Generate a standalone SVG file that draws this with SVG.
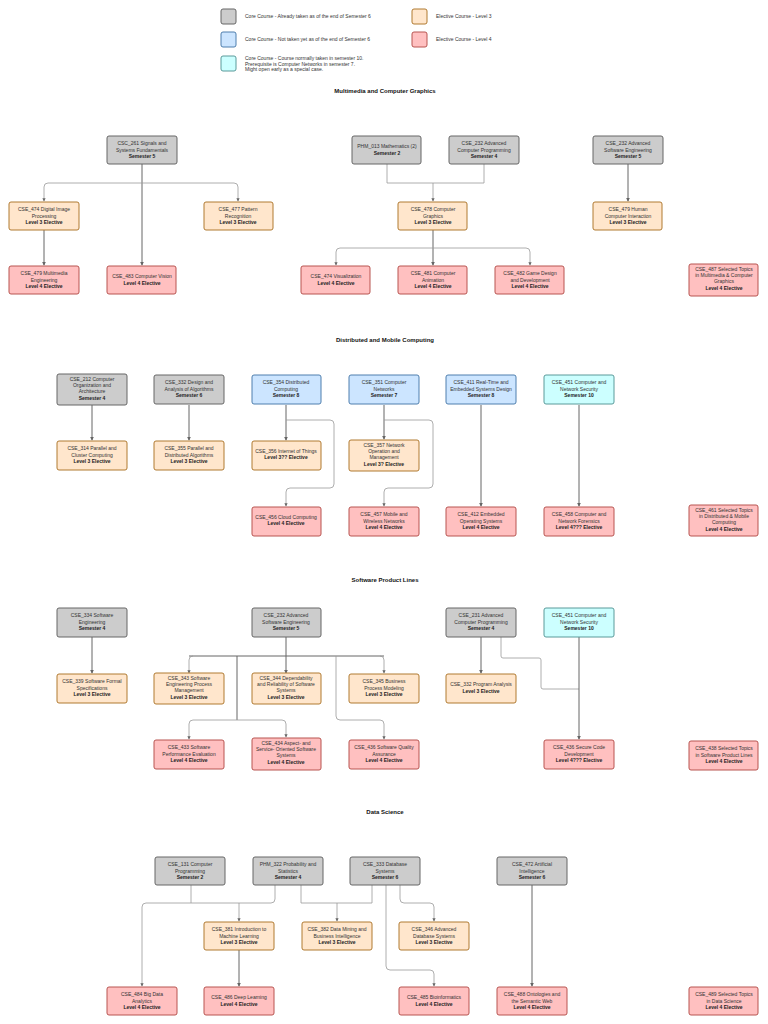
<svg xmlns="http://www.w3.org/2000/svg" width="768" height="1024" viewBox="0 0 768 1024">
<style>
text{font-family:"Liberation Sans",Arial,sans-serif;font-size:5px;fill:#333;text-anchor:middle}
.b{font-weight:bold;fill:#222}
.l{text-anchor:start}
.t{font-size:6px;font-weight:bold;fill:#111}
.g{fill:#cccccc;stroke:#666}
.o{fill:#ffe6cc;stroke:#b07a30}
.u{fill:#cce5ff;stroke:#4f7fae}
.c{fill:#ccffff;stroke:#5a9a9a}
.r{fill:#ffc0c0;stroke:#b85450}
rect{stroke-width:1}
.e path{fill:none;stroke:#666;stroke-width:1}
.e .th{stroke:#999;stroke-width:0.8}
</style>
<defs><marker id="a" viewBox="0 0 6 6" refX="5" refY="3" markerWidth="4" markerHeight="4" orient="auto"><path d="M0,0L6,3L0,6z" fill="#666"/></marker></defs>
<rect width="768" height="1024" fill="#fff"/>
<g id="legend">
<rect class="g" x="221" y="9" width="15" height="15" rx="2"/><text class="l" x="245" y="18">Core Course - Already taken as of the end of Semester 6</text>
<rect class="u" x="221" y="32" width="15" height="15" rx="2"/><text class="l" x="245" y="41">Core Course - Not taken yet as of the end of Semester 6</text>
<rect class="c" x="221" y="56" width="15" height="15" rx="2"/><text class="l" x="245" y="60">Core Course - Course normally taken in semester 10.</text><text class="l" x="245" y="65.5">Prerequisite is Computer Networks in semester 7.</text><text class="l" x="245" y="71">Might open early as a special case.</text>
<rect class="o" x="412" y="9" width="15" height="15" rx="2"/><text class="l" x="436" y="18">Elective Course - Level 3</text>
<rect class="r" x="412" y="32" width="15" height="15" rx="2"/><text class="l" x="436" y="41">Elective Course - Level 4</text>
</g>
<text class="t" x="385" y="93">Multimedia and Computer Graphics</text>
<text class="t" x="385" y="342">Distributed and Mobile Computing</text>
<text class="t" x="385" y="582">Software Product Lines</text>
<text class="t" x="385" y="814">Data Science</text>
<g class="e" id="connectors">
<path d="M142,164V265" marker-end="url(#a)"/>
<path class="th" d="M142,183H48Q44,183 44,187V201" marker-end="url(#a)"/>
<path class="th" d="M142,183H234Q238,183 238,187V201" marker-end="url(#a)"/>
<path d="M44,230V265" marker-end="url(#a)"/>
<path class="th" d="M387,164V183H484V164"/>
<path class="th" d="M433,183V201" marker-end="url(#a)"/>
<path d="M433,230V265" marker-end="url(#a)"/>
<path class="th" d="M433,248H340Q336,248 336,252V265" marker-end="url(#a)"/>
<path class="th" d="M433,248H526Q530,248 530,252V265" marker-end="url(#a)"/>
<path d="M628,164V201" marker-end="url(#a)"/>
<path d="M92,405V440" marker-end="url(#a)"/>
<path d="M189,405V440" marker-end="url(#a)"/>
<path d="M286,405V440" marker-end="url(#a)"/>
<path class="th" d="M286,420H330Q334,420 334,424V484Q334,488 330,488H290Q286,488 286,492V506" marker-end="url(#a)"/>
<path d="M384,405V439" marker-end="url(#a)"/>
<path class="th" d="M384,420H429Q433,420 433,424V484Q433,488 429,488H388Q384,488 384,492V506" marker-end="url(#a)"/>
<path d="M481,405V506" marker-end="url(#a)"/>
<path d="M579,405V506" marker-end="url(#a)"/>
<path d="M92,637V673" marker-end="url(#a)"/>
<path d="M286,637V673" marker-end="url(#a)"/>
<path d="M189,656H384"/>
<path class="th" d="M193,656Q189,656 189,660V673" marker-end="url(#a)"/>
<path class="th" d="M380,656Q384,656 384,660V673" marker-end="url(#a)"/>
<path d="M237,656V720"/>
<path class="th" d="M237,720H193Q189,720 189,724V739" marker-end="url(#a)"/>
<path class="th" d="M237,720H282Q286,720 286,724V737" marker-end="url(#a)"/>
<path class="th" d="M336,656V716Q336,720 340,720H380Q384,720 384,724V739" marker-end="url(#a)"/>
<path d="M481,637V673" marker-end="url(#a)"/>
<path class="th" d="M501,637V656Q501,658 503,658H539Q541,658 541,660V687Q541,689 543,689H579"/>
<path d="M579,637V739" marker-end="url(#a)"/>
<path class="th" d="M191,885V903"/>
<path class="th" d="M239,903H146Q142,903 142,907V986" marker-end="url(#a)"/>
<path class="th" d="M275,885V899Q275,903 271,903H239V921" marker-end="url(#a)"/>
<path class="th" d="M301,885V903H372V885"/>
<path class="th" d="M337,903V921" marker-end="url(#a)"/>
<path class="th" d="M386,885V966Q386,970 390,970H430Q434,970 434,974V986" marker-end="url(#a)"/>
<path class="th" d="M400,885V899Q400,903 404,903H430Q434,903 434,907V921" marker-end="url(#a)"/>
<path d="M239,950V986" marker-end="url(#a)"/>
<path d="M532,885V986" marker-end="url(#a)"/>
</g>
<g id="n1"><rect class="g" x="107" y="136" width="70" height="28" rx="2"/><text x="142" y="145">CSC_261 Signals and</text><text x="142" y="151.5">Systems Fundamentals</text><text class="b" x="142" y="158">Semester 5</text></g>
<g id="n2"><rect class="g" x="352" y="136" width="69" height="28" rx="2"/><text x="387" y="148">PHM_013 Mathematics (2)</text><text class="b" x="387" y="155">Semester 2</text></g>
<g id="n3"><rect class="g" x="449" y="136" width="70" height="28" rx="2"/><text x="484" y="145">CSE_232 Advanced</text><text x="484" y="151.5">Computer Programming</text><text class="b" x="484" y="158">Semester 4</text></g>
<g id="n4"><rect class="g" x="593" y="136" width="70" height="28" rx="2"/><text x="628" y="145">CSE_232 Advanced</text><text x="628" y="151.5">Software Engineering</text><text class="b" x="628" y="158">Semester 5</text></g>
<g id="n5"><rect class="o" x="9" y="202" width="70" height="28" rx="2"/><text x="44" y="211">CSE_474 Digital Image</text><text x="44" y="217.5">Processing</text><text class="b" x="44" y="224">Level 3 Elective</text></g>
<g id="n6"><rect class="o" x="204" y="202" width="69" height="28" rx="2"/><text x="238" y="211">CSE_477 Pattern</text><text x="238" y="217.5">Recognition</text><text class="b" x="238" y="224">Level 3 Elective</text></g>
<g id="n7"><rect class="o" x="398" y="202" width="69" height="28" rx="2"/><text x="433" y="211">CSE_478 Computer</text><text x="433" y="217.5">Graphics</text><text class="b" x="433" y="224">Level 3 Elective</text></g>
<g id="n8"><rect class="o" x="593" y="202" width="69" height="28" rx="2"/><text x="628" y="211">CSE_479 Human</text><text x="628" y="217.5">Computer Interaction</text><text class="b" x="628" y="224">Level 3 Elective</text></g>
<g id="n9"><rect class="r" x="9" y="266" width="70" height="28" rx="2"/><text x="44" y="275">CSE_479 Multimedia</text><text x="44" y="281.5">Engineering</text><text class="b" x="44" y="288">Level 4 Elective</text></g>
<g id="n10"><rect class="r" x="107" y="266" width="69" height="28" rx="2"/><text x="142" y="278">CSE_483 Computer Vision</text><text class="b" x="142" y="285">Level 4 Elective</text></g>
<g id="n11"><rect class="r" x="301" y="266" width="69" height="28" rx="2"/><text x="336" y="278">CSE_474 Visualization</text><text class="b" x="336" y="285">Level 4 Elective</text></g>
<g id="n12"><rect class="r" x="398" y="266" width="69" height="28" rx="2"/><text x="433" y="275">CSE_481 Computer</text><text x="433" y="281.5">Animation</text><text class="b" x="433" y="288">Level 4 Elective</text></g>
<g id="n13"><rect class="r" x="495" y="266" width="69" height="28" rx="2"/><text x="530" y="275">CSE_482 Game Design</text><text x="530" y="281.5">and Development</text><text class="b" x="530" y="288">Level 4 Elective</text></g>
<g id="n14"><rect class="r" x="689" y="264" width="69" height="32" rx="2"/><text x="724" y="271">CSE_487 Selected Topics</text><text x="724" y="277">in Multimedia &amp; Computer</text><text x="724" y="283">Graphics</text><text class="b" x="724" y="290">Level 4 Elective</text></g>
<g id="n15"><rect class="g" x="57" y="374" width="70" height="31" rx="2"/><text x="92" y="381">CSE_212 Computer</text><text x="92" y="387">Organization and</text><text x="92" y="393">Architecture</text><text class="b" x="92" y="400">Semester 4</text></g>
<g id="n16"><rect class="g" x="154" y="375" width="70" height="29" rx="2"/><text x="189" y="384">CSE_332 Design and</text><text x="189" y="390.5">Analysis of Algorithms</text><text class="b" x="189" y="397">Semester 6</text></g>
<g id="n17"><rect class="u" x="252" y="375" width="69" height="29" rx="2"/><text x="286" y="384">CSE_354 Distributed</text><text x="286" y="390.5">Computing</text><text class="b" x="286" y="397">Semester 8</text></g>
<g id="n18"><rect class="u" x="349" y="375" width="70" height="29" rx="2"/><text x="384" y="384">CSE_351 Computer</text><text x="384" y="390.5">Networks</text><text class="b" x="384" y="397">Semester 7</text></g>
<g id="n19"><rect class="u" x="446" y="375" width="70" height="29" rx="2"/><text x="481" y="384">CSE_411 Real-Time and</text><text x="481" y="390.5">Embedded Systems Design</text><text class="b" x="481" y="397">Semester 8</text></g>
<g id="n20"><rect class="c" x="544" y="375" width="70" height="29" rx="2"/><text x="579" y="384">CSE_451 Computer and</text><text x="579" y="390.5">Network Security</text><text class="b" x="579" y="397">Semester 10</text></g>
<g id="n21"><rect class="o" x="57" y="441" width="70" height="29" rx="2"/><text x="92" y="450">CSE_314 Parallel and</text><text x="92" y="456.5">Cluster Computing</text><text class="b" x="92" y="463">Level 3 Elective</text></g>
<g id="n22"><rect class="o" x="154" y="441" width="70" height="29" rx="2"/><text x="189" y="450">CSE_355 Parallel and</text><text x="189" y="456.5">Distributed Algorithms</text><text class="b" x="189" y="463">Level 3 Elective</text></g>
<g id="n23"><rect class="o" x="252" y="441" width="69" height="29" rx="2"/><text x="286" y="452.5">CSE_356 Internet of Things</text><text class="b" x="286" y="459">Level 3?? Elective</text></g>
<g id="n24"><rect class="o" x="349" y="440" width="70" height="31" rx="2"/><text x="384" y="447">CSE_357 Network</text><text x="384" y="453">Operation and</text><text x="384" y="459">Management</text><text class="b" x="384" y="466">Level 3? Elective</text></g>
<g id="n25"><rect class="r" x="252" y="507" width="69" height="29" rx="2"/><text x="286" y="518.5">CSE_456 Cloud Computing</text><text class="b" x="286" y="525">Level 4 Elective</text></g>
<g id="n26"><rect class="r" x="349" y="507" width="70" height="29" rx="2"/><text x="384" y="516">CSE_457 Mobile and</text><text x="384" y="522.5">Wireless Networks</text><text class="b" x="384" y="529">Level 4 Elective</text></g>
<g id="n27"><rect class="r" x="446" y="507" width="70" height="29" rx="2"/><text x="481" y="516">CSE_412 Embedded</text><text x="481" y="522.5">Operating Systems</text><text class="b" x="481" y="529">Level 4 Elective</text></g>
<g id="n28"><rect class="r" x="544" y="507" width="70" height="29" rx="2"/><text x="579" y="516">CSE_458 Computer and</text><text x="579" y="522.5">Network Forensics</text><text class="b" x="579" y="529">Level 4??? Elective</text></g>
<g id="n29"><rect class="r" x="689" y="505" width="69" height="31" rx="2"/><text x="724" y="512">CSE_461 Selected Topics</text><text x="724" y="518">in Distributed &amp; Mobile</text><text x="724" y="524">Computing</text><text class="b" x="724" y="531">Level 4 Elective</text></g>
<g id="n30"><rect class="g" x="57" y="608" width="70" height="29" rx="2"/><text x="92" y="617">CSE_334 Software</text><text x="92" y="623.5">Engineering</text><text class="b" x="92" y="630">Semester 4</text></g>
<g id="n31"><rect class="g" x="252" y="608" width="69" height="29" rx="2"/><text x="286" y="617">CSE_232 Advanced</text><text x="286" y="623.5">Software Engineering</text><text class="b" x="286" y="630">Semester 5</text></g>
<g id="n32"><rect class="g" x="446" y="608" width="70" height="29" rx="2"/><text x="481" y="617">CSE_231 Advanced</text><text x="481" y="623.5">Computer Programming</text><text class="b" x="481" y="630">Semester 4</text></g>
<g id="n33"><rect class="c" x="544" y="608" width="70" height="29" rx="2"/><text x="579" y="617">CSE_451 Computer and</text><text x="579" y="623.5">Network Security</text><text class="b" x="579" y="630">Semester 10</text></g>
<g id="n34"><rect class="o" x="57" y="674" width="70" height="29" rx="2"/><text x="92" y="683">CSE_339 Software Formal</text><text x="92" y="689.5">Specifications</text><text class="b" x="92" y="696">Level 3 Elective</text></g>
<g id="n35"><rect class="o" x="154" y="673" width="70" height="31" rx="2"/><text x="189" y="680">CSE_343 Software</text><text x="189" y="686">Engineering Process</text><text x="189" y="692">Management</text><text class="b" x="189" y="699">Level 3 Elective</text></g>
<g id="n36"><rect class="o" x="252" y="673" width="69" height="31" rx="2"/><text x="286" y="680">CSE_344 Dependability</text><text x="286" y="686">and Reliability of Software</text><text x="286" y="692">Systems</text><text class="b" x="286" y="699">Level 3 Elective</text></g>
<g id="n37"><rect class="o" x="349" y="674" width="70" height="29" rx="2"/><text x="384" y="683">CSE_345 Business</text><text x="384" y="689.5">Process Modeling</text><text class="b" x="384" y="696">Level 3 Elective</text></g>
<g id="n38"><rect class="o" x="446" y="674" width="70" height="29" rx="2"/><text x="481" y="686">CSE_332 Program Analysis</text><text class="b" x="481" y="693">Level 3 Elective</text></g>
<g id="n39"><rect class="r" x="154" y="740" width="70" height="29" rx="2"/><text x="189" y="749">CSE_433 Software</text><text x="189" y="755.5">Performance Evaluation</text><text class="b" x="189" y="762">Level 4 Elective</text></g>
<g id="n40"><rect class="r" x="252" y="738" width="69" height="32" rx="2"/><text x="286" y="745">CSE_434 Aspect- and</text><text x="286" y="751">Service- Oriented Software</text><text x="286" y="757">Systems</text><text class="b" x="286" y="764">Level 4 Elective</text></g>
<g id="n41"><rect class="r" x="349" y="740" width="70" height="29" rx="2"/><text x="384" y="749">CSE_436 Software Quality</text><text x="384" y="755.5">Assurance</text><text class="b" x="384" y="762">Level 4 Elective</text></g>
<g id="n42"><rect class="r" x="544" y="740" width="70" height="29" rx="2"/><text x="579" y="749">CSE_436 Secure Code</text><text x="579" y="755.5">Development</text><text class="b" x="579" y="762">Level 4??? Elective</text></g>
<g id="n43"><rect class="r" x="689" y="741" width="69" height="29" rx="2"/><text x="724" y="750">CSE_438 Selected Topics</text><text x="724" y="756.5">in Software Product Lines</text><text class="b" x="724" y="763">Level 4 Elective</text></g>
<g id="n44"><rect class="g" x="155" y="857" width="70" height="28" rx="2"/><text x="190" y="866">CSE_131 Computer</text><text x="190" y="872.5">Programming</text><text class="b" x="190" y="879">Semester 2</text></g>
<g id="n45"><rect class="g" x="253" y="857" width="70" height="28" rx="2"/><text x="288" y="866">PHM_322 Probability and</text><text x="288" y="872.5">Statistics</text><text class="b" x="288" y="879">Semester 4</text></g>
<g id="n46"><rect class="g" x="350" y="857" width="70" height="28" rx="2"/><text x="385" y="866">CSE_333 Database</text><text x="385" y="872.5">Systems</text><text class="b" x="385" y="879">Semester 6</text></g>
<g id="n47"><rect class="g" x="497" y="857" width="70" height="28" rx="2"/><text x="532" y="866">CSE_472 Artificial</text><text x="532" y="872.5">Intelligence</text><text class="b" x="532" y="879">Semester 6</text></g>
<g id="n48"><rect class="o" x="204" y="922" width="70" height="28" rx="2"/><text x="239" y="931">CSE_381 Introduction to</text><text x="239" y="937.5">Machine Learning</text><text class="b" x="239" y="944">Level 3 Elective</text></g>
<g id="n49"><rect class="o" x="302" y="922" width="70" height="28" rx="2"/><text x="337" y="931">CSE_382 Data Mining and</text><text x="337" y="937.5">Business Intelligence</text><text class="b" x="337" y="944">Level 3 Elective</text></g>
<g id="n50"><rect class="o" x="399" y="922" width="70" height="28" rx="2"/><text x="434" y="931">CSE_346 Advanced</text><text x="434" y="937.5">Database Systems</text><text class="b" x="434" y="944">Level 3 Elective</text></g>
<g id="n51"><rect class="r" x="107" y="987" width="70" height="28" rx="2"/><text x="142" y="996">CSE_484 Big Data</text><text x="142" y="1002.5">Analytics</text><text class="b" x="142" y="1009">Level 4 Elective</text></g>
<g id="n52"><rect class="r" x="204" y="987" width="70" height="28" rx="2"/><text x="239" y="999">CSE_486 Deep Learning</text><text class="b" x="239" y="1006">Level 4 Elective</text></g>
<g id="n53"><rect class="r" x="399" y="987" width="70" height="28" rx="2"/><text x="434" y="999">CSE_485 Bioinformatics</text><text class="b" x="434" y="1006">Level 4 Elective</text></g>
<g id="n54"><rect class="r" x="497" y="987" width="70" height="28" rx="2"/><text x="532" y="996">CSE_488 Ontologies and</text><text x="532" y="1002.5">the Semantic Web</text><text class="b" x="532" y="1009">Level 4 Elective</text></g>
<g id="n55"><rect class="r" x="689" y="987" width="69" height="28" rx="2"/><text x="724" y="996">CSE_489 Selected Topics</text><text x="724" y="1002.5">in Data Science</text><text class="b" x="724" y="1009">Level 4 Elective</text></g>
</svg>
